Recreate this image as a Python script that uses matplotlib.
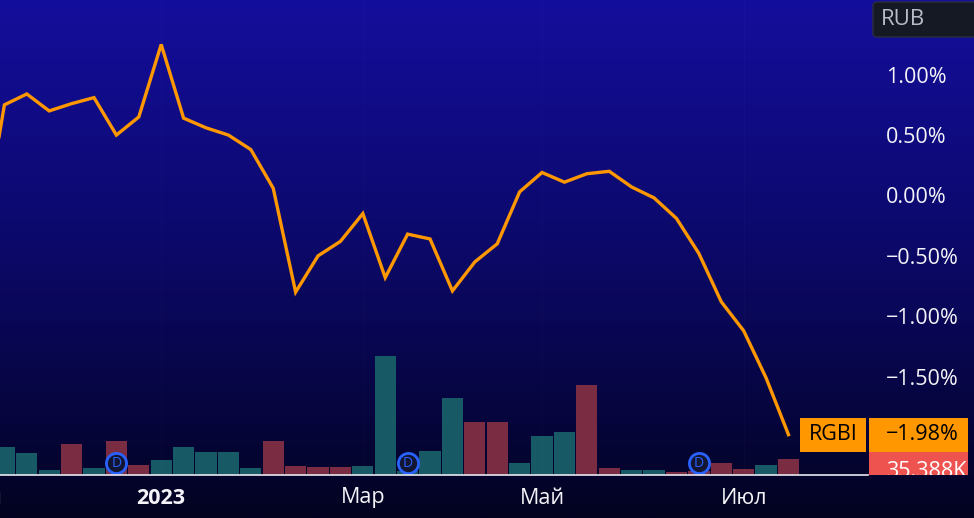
import numpy as np
import pandas as pd
import matplotlib
matplotlib.use('Agg')
import matplotlib.pyplot as plt
from matplotlib.patches import Rectangle, FancyBboxPatch
from matplotlib.colors import LinearSegmentedColormap
from matplotlib.transforms import IdentityTransform

plt.rcParams['font.family'] = ['Open Sans', 'DejaVu Sans']

W, H, DPI = 974, 518, 100

# ---------------- data ----------------
dates = pd.date_range('2022-11-07', periods=37, freq='W-MON')
change_pct = [-0.35, 0.75, 0.84, 0.70, 0.76, 0.81, 0.50, 0.65, 1.25, 0.64,
              0.56, 0.50, 0.38, 0.06, -0.80, -0.50, -0.38, -0.15, -0.68, -0.32,
              -0.36, -0.79, -0.55, -0.40, 0.03, 0.19, 0.11, 0.18, 0.20, 0.07,
              -0.02, -0.19, -0.48, -0.88, -1.12, -1.51, -1.98]
volume_k = [40, 62, 49, 11, 69, 15, 75, 22, 33, 62,
            51, 51, 15, 75, 20, 18, 18, 20, 263, 9,
            53, 170, 117, 117, 27, 86, 95, 199, 15, 11,
            11, 7, 9, 27, 13, 22, 35.388]
volume_dir = ['up', 'up', 'up', 'up', 'down', 'up', 'down', 'down', 'up', 'up',
              'up', 'up', 'up', 'down', 'down', 'down', 'down', 'up', 'up', 'up',
              'up', 'up', 'down', 'down', 'up', 'up', 'up', 'down', 'down', 'up',
              'up', 'down', 'down', 'down', 'down', 'up', 'down']
dividend_idx = [6, 19, 32]
month_labels = {11: 'Ноя', 1: '2023', 3: 'Мар', 5: 'Май', 7: 'Июл'}
y_ticks = [1.0, 0.5, 0.0, -0.5, -1.0, -1.5]
symbol = 'RGBI'
currency = 'RUB'
last_volume_label = '35.388K'

# ---------------- styles ----------------
LINE_COLOR = '#ff9800'
UP_COLOR = '#175a65'
DOWN_COLOR = '#7a2d42'
TEXT_COLOR = '#f4f4f8'
BLUE = '#2962ff'
FS = 15.5

fig = plt.figure(figsize=(W / DPI, H / DPI), dpi=DPI)
fig.patch.set_facecolor('#03031f')

# background gradient
bg = fig.add_axes([0, 0, 1, 1], zorder=-10)
cmap = LinearSegmentedColormap.from_list('bg', [
    (0.0, (20 / 255, 14 / 255, 156 / 255)),
    (0.45, (12 / 255, 9 / 255, 108 / 255)),
    (0.80, (6 / 255, 5 / 255, 62 / 255)),
    (0.92, (4 / 255, 4 / 255, 44 / 255)),
    (1.0, (3 / 255, 3 / 255, 32 / 255)),
])
grad = np.linspace(0, 1, 256).reshape(-1, 1)
bg.imshow(grad, aspect='auto', cmap=cmap, extent=[0, 1, 0, 1], origin='upper')
bg.axis('off')

rect = [0, 43 / H, 868 / W, 475 / H]
x = np.arange(len(dates))
xlim = (0.804, 39.55)

# volume axes
ax_v = fig.add_axes(rect)
ax_v.patch.set_alpha(0)
bar_colors = [UP_COLOR if d == 'up' else DOWN_COLOR for d in volume_dir]
ax_v.bar(x, volume_k, width=0.95, color=bar_colors, zorder=2)
div_y = 26.5
ax_v.scatter(dividend_idx, [div_y] * len(dividend_idx), s=210, facecolor='#121633',
             edgecolor=BLUE, linewidths=2.0, zorder=5)
for i in dividend_idx:
    ax_v.text(i, div_y, 'D', color=BLUE, fontsize=10, ha='center', va='center', zorder=6)
ax_v.set_ylim(0, 1050)
ax_v.set_xlim(*xlim)
ax_v.axis('off')

# price axes
ax = fig.add_axes(rect)
ax.patch.set_alpha(0)
ax.plot(x, change_pct, color=LINE_COLOR, lw=2.4, solid_joinstyle='miter', zorder=3)
for s in ['top', 'left', 'right']:
    ax.spines[s].set_visible(False)
ax.spines['bottom'].set_color('#e8e8f0')
ax.spines['bottom'].set_linewidth(1.2)

ax.yaxis.tick_right()
ax.set_yticks(y_ticks)
ax.set_yticklabels([f'{v:.2f}%'.replace('-', '\u2212') for v in y_ticks])
ax.tick_params(axis='y', length=0, pad=13, labelsize=FS, labelcolor=TEXT_COLOR)

tick_pos, tick_lab = [], []
for i, d in enumerate(dates):
    if d.month in month_labels and (i == 0 or dates[i - 1].month != d.month):
        tick_pos.append(i)
        tick_lab.append(month_labels[d.month])
ax.set_xticks(tick_pos, labels=tick_lab)
ax.tick_params(axis='x', length=0, pad=9, labelsize=FS, labelcolor=TEXT_COLOR)
for lbl in ax.get_xticklabels():
    if lbl.get_text().isdigit():
        lbl.set_fontweight('bold')
ax.grid(axis='x', color='white', alpha=0.018, lw=1)
ax.set_xlim(*xlim)
ax.set_ylim(-2.314, 1.618)

# label partly out of view (first tick)
for p, l in zip(tick_pos, tick_lab):
    if p < xlim[0]:
        ax.annotate(l, xy=(p, 0), xycoords=('data', 'axes fraction'), xytext=(0, -9),
                    textcoords='offset points', ha='center', va='top', fontsize=FS,
                    color=TEXT_COLOR, annotation_clip=False)

# ---------------- overlays (pixel coords) ----------------
ident = IdentityTransform()
yc = ax.transData.transform((0, change_pct[-1]))[1]
box_h = 34
base_y = 43

fig.add_artist(Rectangle((800, yc - box_h / 2), 66, box_h, facecolor=LINE_COLOR,
                         edgecolor='none', transform=ident))
fig.add_artist(Rectangle((869, yc - box_h / 2), 99, box_h, facecolor=LINE_COLOR,
                         edgecolor='none', transform=ident))
fig.text(833, yc, symbol, transform=ident, fontsize=FS, color='black',
         ha='center', va='center')
fig.text(886, yc, f'{change_pct[-1]:.2f}%'.replace('-', '\u2212'), transform=ident,
         fontsize=FS, color='black', ha='left', va='center')

red_box = Rectangle((869, base_y), 99, yc - box_h / 2 - base_y, facecolor='#ef5350',
                    edgecolor='none', transform=ident)
fig.add_artist(red_box)
t = fig.text(886, base_y - 2, last_volume_label, transform=ident, fontsize=FS,
             color='white', ha='left', va='baseline')
t.set_clip_path(red_box)

# currency box
rub = FancyBboxPatch((873, H - 37), 130, 35, boxstyle='round,pad=0,rounding_size=4',
                     facecolor='#151924', edgecolor='#2a2e3c', lw=1, transform=ident)
fig.add_artist(rub)
fig.text(881, H - 19.5, currency, transform=ident, fontsize=16, color='#b8bcc8',
         ha='left', va='center')

fig.savefig('out.png', dpi=DPI, facecolor=fig.get_facecolor())
